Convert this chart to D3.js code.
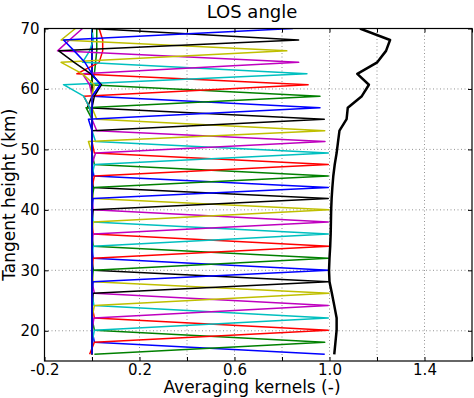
<!DOCTYPE html>
<html>
<head>
<meta charset="utf-8">
<script src="https://cdn.jsdelivr.net/npm/d3@7"></script>
<style>
  body { margin: 0; background: #fff; }
  svg { display: block; font-family: "DejaVu Sans", sans-serif; }
</style>
</head>
<body>
<svg id="chart" width="474" height="398"></svg>
<script>
// tangent heights (km) of the retrieval grid
const heights = [16.1, 18.1, 20.1, 22.1, 24.2, 26.2, 28.1, 30.0, 32.0, 34.0,
                 36.0, 38.0, 40.0, 41.9, 43.7, 45.6, 47.5, 49.4, 51.3, 53.1,
                 55.0, 56.9, 58.8, 60.7, 62.5, 64.4, 66.3, 68.1, 70.0];

// matplotlib classic colour cycle b g r c m y k
const kernelColors = ["#0000ff", "#008000", "#ff0000", "#00bfbf", "#bf00bf", "#bfbf00", "#000000"];

// one averaging kernel per row, values at each tangent height
const kernels = [
  [0.98,0.01,0,0,0,0,0,0,0,0, 0,0,0,0,0,0,0,0,0,0, 0,0,0,0,0,0,0,0,0],
  [0.01,0.98,0.01,0,0,0,0,0,0,0, 0,0,0,0,0,0,0,0,0,0, 0,0,0,0,0,0,0,0,0],
  [-0.01,0.01,0.995,0.01,0,0,0,0,0,0, 0,0,0,0,0,0,0,0,0,0, 0,0,0,0,0,0,0,0,0],
  [0,0,0.01,0.995,0.008,0,0,0,0,0, 0,0,0,0,0,0,0,0,0,0, 0,0,0,0,0,0,0,0,0],
  [0,0,0,0.008,0.995,0.01,0,0,0,0, 0,0,0,0,0,0,0,0,0,0, 0,0,0,0,0,0,0,0,0],
  [0,0,0,0,0.01,0.998,0.005,0,0,0, 0,0,0,0,0,0,0,0,0,0, 0,0,0,0,0,0,0,0,0],
  [0,0,0,0,0,0.005,0.995,0.005,0,0, 0,0,0,0,0,0,0,0,0,0, 0,0,0,0,0,0,0,0,0],
  [0,0,0,0,0,0,0.005,0.998,0.005,0, 0,0,0,0,0,0,0,0,0,0, 0,0,0,0,0,0,0,0,0],
  [0,0,0,0,0,0,0,0.005,0.995,0.005, 0,0,0,0,0,0,0,0,0,0, 0,0,0,0,0,0,0,0,0],
  [0,0,0,0,0,0,0,0,0.005,0.998, 0.005,0,0,0,0,0,0,0,0,0, 0,0,0,0,0,0,0,0,0],
  [0,0,0,0,0,0,0,0,0,0.005, 0.995,0.005,0,0,0,0,0,0,0,0, 0,0,0,0,0,0,0,0,0],
  [0,0,0,0,0,0,0,0,0,0, 0.005,0.995,0.005,0,0,0,0,0,0,0, 0,0,0,0,0,0,0,0,0],
  [0,0,0,0,0,0,0,0,0,0, 0,0.005,0.998,0.005,0,0,0,0,0,0, 0,0,0,0,0,0,0,0,0],
  [0,0,0,0,0,0,0,0,0,0, 0,0,0.005,0.995,0.005,0,0,0,0,0, 0,0,0,0,0,0,0,0,0],
  [0,0,0,0,0,0,0,0,0,0, 0,0,0,0.005,0.995,0.008,0,0,0,0, 0,0,0,0,0,0,0,0,0],
  [0,0,0,0,0,0,0,0,0,0, 0,0,0,0,0.008,0.995,0.01,0,0,0, 0,0,0,0,0,0,0,0,0],
  [0,0,0,0,0,0,0,0,0,0, 0,0,0,0,0,0.01,0.995,0.01,0,0, 0,0,0,0,0,0,0,0,0],
  [0,0,0,0,0,0,0,0,0,0, 0,0,0,0,0,0,0.01,0.995,0.015,0, 0,0,0,0,0,0,0,0,0],
  [0,0,0,0,0,0,0,0,0,0, 0,0,0,0,0,0,0,0.015,0.981,0.02, 0,0,0,0,0,0,0,0,0],
  [0,0,0,0,0,0,0,0,0,0, 0,0,0,0,0,0,0,0,-0.015,0.98, 0.02,0,0,0,0,0,0,0,0],
  [0,0,0,0,0,0,0,0,0,0, 0,0,0,0,0,0,0,0,0,0, 0.978,-0.02,0,0,0,0,0,0,0],
  [0,0,0,0,0,0,0,0,0,0, 0,0,0,0,0,0,0,0,0,0, -0.015,0.96,0,0.035,0,0,0,0,0],
  [0,0,0,0,0,0,0,0,0,0, 0,0,0,0,0,0,0,0,0,0, 0,-0.025,0.96,-0.01,0.01,0.015,0.02,0.02,0.02],
  [0,0,0,0,0,0,0,0,0,0, 0,0,0,0,0,0,0,0,0,0, 0,-0.01,-0.035,0.91,-0.064,0.03,0.045,0.045,0.03],
  [0,0,0,0,0,0,0,0,0,0, 0,0,0,0,0,0,0,0,0,0, 0,-0.01,-0.035,-0.12,0.905,-0.04,-0.01,0.005,0],
  [0,0,0,0,0,0,0,0,0,0, 0,0,0,0,0,0,0,0,0,0, 0,0,0,-0.01,-0.04,0.87,-0.145,-0.095,-0.04],
  [0,0,0,0,0,0,0,0,0,0, 0,0,0,0,0,0,0,0,0,0, 0,0,0,0.01,-0.04,-0.13,0.82,-0.13,-0.07],
  [0,0,0,0,0,0,0,0,0,0, 0,0,0,0,0,0,0,0,0,0, 0,0,0.01,0.04,-0.005,-0.075,-0.14,0.87,0],
  [0,0,0,0,0,0,0,0,0,0, 0,0,0,0,0,0,0,0,0,0, 0,0,0,0.035,0,-0.03,-0.075,-0.12,0.846]
];

// thick black curve (kernel sum / measurement response)
const kernelSum = [1.02, 1.025, 1.03, 1.03, 1.02, 1.01, 1.0, 0.998, 1.0, 1.003,
                   1.005, 1.006, 1.007, 1.009, 1.012, 1.016, 1.022, 1.03, 1.036, 1.042,
                   1.072, 1.077, 1.136, 1.166, 1.117, 1.201, 1.238, 1.255, 1.128];

const xTickValues = [-0.2, 0.0, 0.2, 0.4, 0.6, 0.8, 1.0, 1.2, 1.4, 1.6];
const xTickLabels = ["-0.2", "", "0.2", "", "0.6", "", "1.0", "", "1.4", ""];
const yTickValues = [20, 30, 40, 50, 60, 70];

const plotLeft = 44.5, plotRight = 472, plotTop = 28.5, plotBottom = 361;

const x = d3.scaleLinear().domain([-0.2, 1.6]).range([plotLeft, plotRight]);
const y = d3.scaleLinear().domain([15, 70]).range([plotBottom, plotTop]);

const svg = d3.select("#chart");

svg.append("defs").append("clipPath").attr("id", "plotclip")
  .append("rect")
    .attr("x", plotLeft).attr("y", plotTop)
    .attr("width", plotRight - plotLeft).attr("height", plotBottom - plotTop);

// dotted grid
const grid = svg.append("g")
  .attr("stroke", "#777")
  .attr("stroke-width", 0.8)
  .attr("stroke-dasharray", "1,2.5");
grid.selectAll("line.gx")
  .data(xTickValues.filter(d => d > -0.2 && d < 1.6))
  .join("line")
    .attr("class", "gx")
    .attr("x1", d => x(d)).attr("x2", d => x(d))
    .attr("y1", plotTop).attr("y2", plotBottom);
grid.selectAll("line.gy")
  .data(yTickValues.filter(d => d < 70))
  .join("line")
    .attr("class", "gy")
    .attr("x1", plotLeft).attr("x2", plotRight)
    .attr("y1", d => y(d)).attr("y2", d => y(d));

// kernels
const line = d3.line()
  .x(d => x(d[0]))
  .y(d => y(d[1]));

const plot = svg.append("g").attr("clip-path", "url(#plotclip)");

plot.selectAll("path.kernel")
  .data(kernels)
  .join("path")
    .attr("class", "kernel")
    .attr("fill", "none")
    .attr("stroke", (d, i) => kernelColors[i % kernelColors.length])
    .attr("stroke-width", 1.5)
    .attr("stroke-linejoin", "round")
    .attr("d", row => line(row.map((v, j) => [v, heights[j]])));

plot.append("path")
  .attr("fill", "none")
  .attr("stroke", "#000")
  .attr("stroke-width", 2.5)
  .attr("stroke-linejoin", "round")
  .attr("d", line(kernelSum.map((v, j) => [v, heights[j]])));

// axes: inward ticks on all four sides
const tickLen = 4;
const xBottom = d3.axisBottom(x).tickValues(xTickValues)
  .tickSizeInner(-tickLen).tickSizeOuter(0).tickPadding(3)
  .tickFormat((d, i) => xTickLabels[i]);
const xTop = d3.axisTop(x).tickValues(xTickValues)
  .tickSizeInner(-tickLen).tickSizeOuter(0).tickFormat("");
const yLeft = d3.axisLeft(y).tickValues(yTickValues)
  .tickSizeInner(-tickLen).tickSizeOuter(0).tickPadding(5)
  .tickFormat(d3.format("d"));
const yRight = d3.axisRight(y).tickValues(yTickValues)
  .tickSizeInner(-tickLen).tickSizeOuter(0).tickFormat("");

function styleAxis(g) {
  g.select(".domain").remove();
  g.selectAll("text").attr("font-size", 15).attr("fill", "#000")
    .attr("font-family", "DejaVu Sans");
  g.selectAll(".tick line").attr("stroke", "#000");
}

svg.append("g").attr("transform", `translate(0,${plotBottom})`).call(xBottom).call(styleAxis);
svg.append("g").attr("transform", `translate(0,${plotTop})`).call(xTop).call(styleAxis);
svg.append("g").attr("transform", `translate(${plotLeft},0)`).call(yLeft).call(styleAxis);
svg.append("g").attr("transform", `translate(${plotRight},0)`).call(yRight).call(styleAxis);

// frame
svg.append("rect")
  .attr("x", plotLeft).attr("y", plotTop)
  .attr("width", plotRight - plotLeft).attr("height", plotBottom - plotTop)
  .attr("fill", "none").attr("stroke", "#000").attr("stroke-width", 1.2);

// texts
svg.append("text")
  .attr("x", 252).attr("y", 18)
  .attr("text-anchor", "middle")
  .attr("font-size", 18)
  .text("LOS angle");

svg.append("text")
  .attr("x", 252).attr("y", 393)
  .attr("text-anchor", "middle")
  .attr("font-size", 17)
  .text("Averaging kernels (-)");

svg.append("text")
  .attr("transform", `translate(15,${(plotTop + plotBottom) / 2}) rotate(-90)`)
  .attr("text-anchor", "middle")
  .attr("font-size", 17)
  .text("Tangent height (km)");
</script>
</body>
</html>
